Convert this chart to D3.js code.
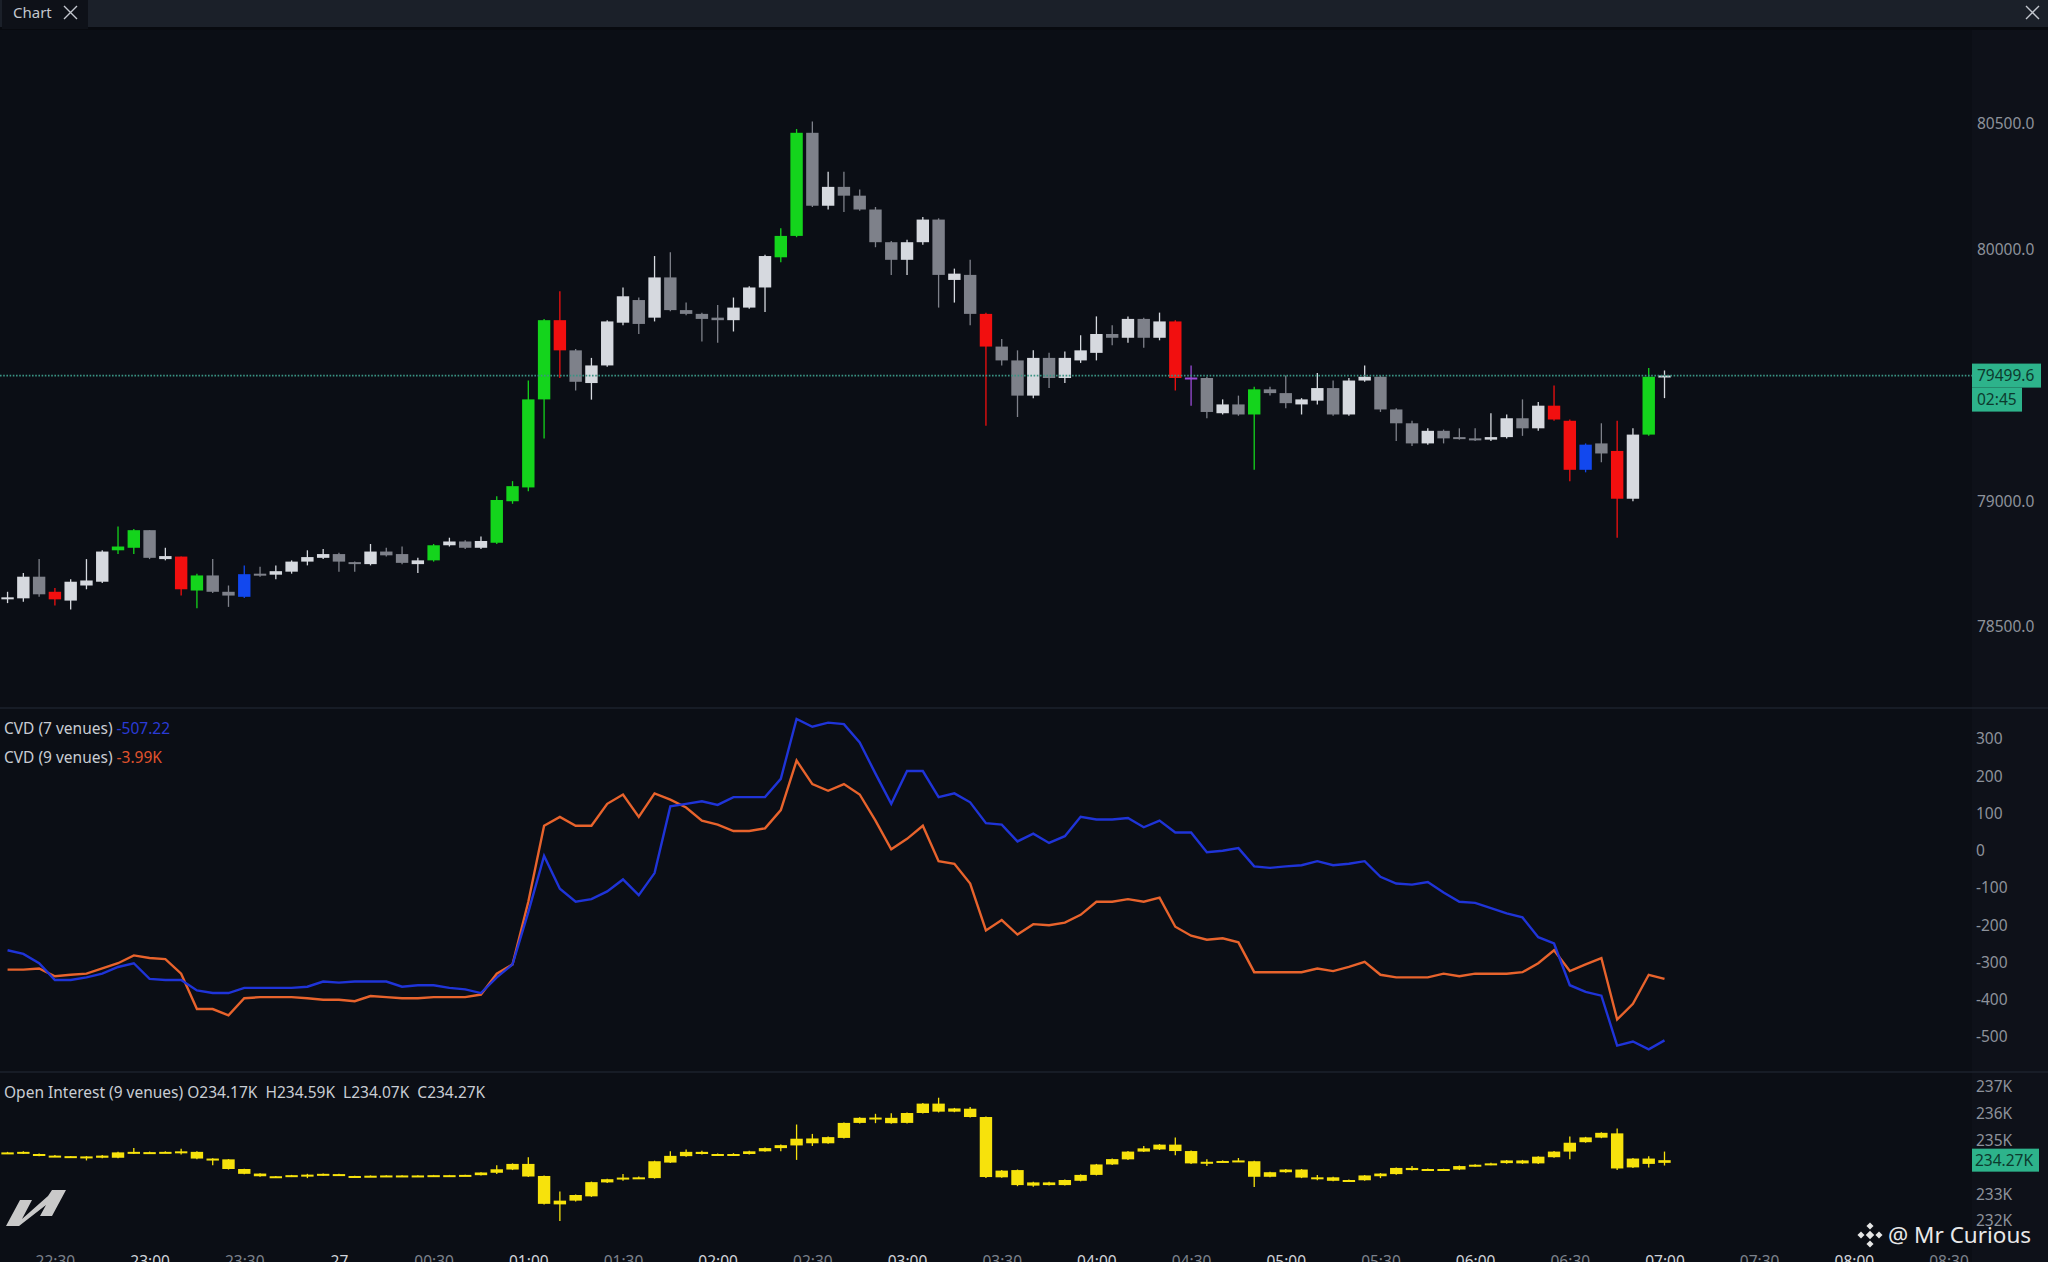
<!DOCTYPE html>
<html>
<head>
<meta charset="utf-8">
<script src="https://cdn.jsdelivr.net/npm/d3@7"></script>
<style>
  html, body { margin: 0; padding: 0; background: #0b0e15; overflow: hidden; }
  svg { display: block; font-family: "Noto Sans", "Open Sans", sans-serif; }
</style>
</head>
<body>
<svg id="chart" width="2048" height="1262"></svg>
<script>
/* data: 5 minute candles from 22:15 to 07:00 */
var PRICE_OPEN = [78615,78614,78700,78640,78605,78665,78680,78805,78815,78885,78770,78780,78645,78705,78640,78620,78712,78708,78720,78760,78775,78790,78758,78750,78800,78790,78750,78765,78825,78840,78815,78835,79000,79055,79405,79720,79600,79470,79540,79710,79800,79730,79890,79760,79745,79730,79720,79770,79850,79970,80055,80465,80175,80250,80215,80160,80030,79960,80030,80120,79880,79900,79745,79615,79560,79420,79570,79490,79560,79590,79665,79650,79725,79650,79715,79490,79490,79350,79385,79345,79445,79430,79385,79400,79450,79345,79480,79495,79365,79310,79230,79280,79255,79250,79245,79255,79330,79290,79380,79320,79125,79230,79200,79010,79265,79495];
var PRICE_HIGH = [78640,78715,78770,78655,78690,78770,78805,78900,78890,78885,78815,78780,78712,78770,78665,78745,78740,78745,78765,78805,78810,78795,78760,78830,78815,78820,78775,78830,78855,78845,78860,79020,79080,79480,79725,79835,79605,79570,79720,79850,79810,79975,79990,79790,79750,79780,79810,79855,79980,80085,80480,80510,80310,80310,80240,80170,80035,80040,80130,80125,79925,79960,79750,79645,79600,79600,79590,79595,79660,79735,79700,79735,79730,79750,79720,79540,79495,79405,79420,79455,79455,79500,79410,79510,79480,79490,79540,79500,79370,79320,79290,79285,79290,79290,79350,79345,79405,79395,79460,79325,79230,79310,79320,79290,79530,79520];
var PRICE_LOW = [78595,78600,78620,78585,78570,78650,78675,78790,78790,78770,78765,78625,78575,78635,78580,78615,78700,78690,78712,78745,78770,78720,78720,78745,78780,78750,78715,78760,78820,78810,78810,78830,78990,79040,79250,79490,79440,79404,79535,79700,79665,79715,79755,79740,79635,79630,79675,79765,79752,79950,80050,80170,80160,80150,80155,80010,79900,79900,80020,79770,79790,79700,79300,79540,79335,79410,79450,79470,79550,79560,79620,79630,79610,79640,79440,79380,79330,79345,79340,79125,79420,79370,79345,79385,79340,79340,79475,79355,79240,79220,79225,79230,79245,79240,79240,79250,79260,79280,79320,79080,79115,79155,78855,79000,79260,79410];
var PRICE_CLOSE = [78618,78700,78630,78610,78680,78685,78800,78820,78885,78775,78782,78650,78705,78640,78625,78710,78705,78722,78760,78778,78790,78760,78752,78800,78785,78755,78765,78825,78840,78815,78842,79005,79060,79405,79720,79600,79475,79540,79715,79815,79705,79890,79760,79745,79725,79720,79770,79850,79975,80055,80465,80175,80250,80215,80160,80030,79960,80030,80120,79900,79905,79745,79615,79560,79420,79570,79490,79570,79600,79665,79650,79725,79650,79715,79490,79492,79355,79385,79345,79445,79430,79390,79405,79450,79345,79480,79495,79365,79310,79230,79280,79250,79250,79245,79255,79330,79290,79380,79325,79125,79225,79190,79010,79265,79495,79500];
var CANDLE_KIND = ["up","up","down","red","up","up","up","green","green","down","up","red","green","down","down","blue","down","up","up","up","up","down","down","up","down","down","up","green","up","down","up","green","green","green","green","red","down","up","up","up","down","up","down","down","down","down","up","up","up","green","green","down","up","down","down","down","down","up","up","down","up","down","red","down","down","up","down","up","up","up","down","up","down","up","red","purple","down","up","down","green","down","down","up","up","down","up","up","down","down","down","up","down","down","down","up","up","down","up","red","red","blue","down","red","up","green","up"];

var CVD_7 = [-267,-277,-302,-347,-347,-340,-330,-312,-302,-344,-347,-347,-375,-382,-382,-368,-368,-368,-368,-365,-351,-354,-351,-351,-351,-365,-361,-361,-368,-372,-382,-340,-305,-165,-14,-102,-137,-130,-109,-77,-119,-60,119,126,133,123,144,144,144,193,354,333,344,340,291,207,126,214,214,144,154,130,74,70,25,46,21,39,91,84,84,88,63,81,49,49,-4,0,7,-42,-46,-42,-39,-28,-39,-35,-28,-70,-88,-91,-84,-112,-137,-140,-154,-168,-179,-232,-249,-361,-379,-389,-523,-512,-533,-509];
var CVD_9 = [-319,-319,-316,-337,-333,-330,-316,-302,-281,-288,-291,-330,-425,-425,-442,-396,-393,-393,-393,-396,-400,-400,-404,-390,-393,-396,-396,-393,-393,-393,-386,-330,-305,-137,67,91,67,67,126,151,91,154,137,116,81,70,53,53,60,109,242,179,161,179,151,81,4,32,67,-28,-35,-88,-214,-186,-225,-197,-200,-193,-172,-137,-137,-130,-137,-126,-204,-228,-239,-235,-246,-326,-326,-326,-326,-316,-323,-312,-298,-333,-340,-340,-340,-330,-337,-330,-330,-330,-326,-302,-267,-323,-305,-288,-453,-411,-333,-344];

var OI_OPEN = [234.55,234.52,234.5,234.44,234.42,234.41,234.36,234.36,234.52,234.57,234.56,234.58,234.58,234.33,234.3,233.94,233.77,233.67,233.66,233.72,233.7,233.7,233.67,233.68,233.69,233.69,233.69,233.7,233.7,233.7,233.71,233.8,233.92,234.13,233.68,232.62,232.76,232.92,233.44,233.58,233.6,233.6,234.18,234.42,234.5,234.5,234.45,234.5,234.6,234.72,234.82,234.9,234.9,235.1,235.66,235.85,235.65,235.66,236.03,236.38,236.2,236.19,235.88,233.63,233.9,233.32,233.34,233.34,233.5,233.72,234.11,234.3,234.59,234.67,234.85,234.61,234.19,234.22,234.24,234.23,233.65,233.82,233.92,233.61,233.63,233.51,233.52,233.67,233.75,233.9,233.92,233.93,233.92,234.04,234.1,234.16,234.15,234.15,234.38,234.59,234.94,235.11,235.27,234.0,234.33,234.17];
var OI_HIGH = [234.58,234.6,234.52,234.46,234.43,234.42,234.46,234.58,234.72,234.59,234.6,234.7,234.6,234.34,234.31,233.95,233.78,233.68,233.72,233.76,233.77,233.76,233.69,233.7,233.71,233.71,233.71,233.72,233.72,233.73,233.82,234.08,234.15,234.38,233.7,233.1,232.99,233.47,233.58,233.75,233.66,234.25,234.6,234.67,234.62,234.52,234.53,234.62,234.74,234.85,235.6,235.25,235.15,235.68,235.87,236.0,236.02,236.05,236.4,236.6,236.22,236.25,235.9,233.9,233.92,233.46,233.46,233.55,233.74,234.13,234.33,234.61,234.8,234.87,235.12,234.63,234.3,234.26,234.35,234.25,233.84,233.94,233.94,233.72,233.65,233.55,233.72,233.79,234.0,234.05,233.96,233.95,234.07,234.12,234.17,234.28,234.28,234.42,234.61,235.15,235.14,235.31,235.45,234.35,234.42,234.59];
var OI_LOW = [234.53,234.5,234.42,234.4,234.39,234.26,234.34,234.34,234.5,234.54,234.55,234.48,234.3,234.08,233.92,233.74,233.65,233.64,233.64,233.6,233.69,233.69,233.66,233.66,233.68,233.68,233.68,233.69,233.69,233.69,233.7,233.75,233.9,233.64,232.62,232.0,232.73,232.9,233.42,233.5,233.58,233.58,234.16,234.4,234.48,234.43,234.43,234.48,234.58,234.6,234.28,234.8,234.88,235.08,235.64,235.65,235.63,235.64,236.01,236.05,236.06,235.86,233.6,233.61,233.3,233.28,233.32,233.32,233.48,233.7,234.09,234.28,234.57,234.65,234.45,234.13,234.05,234.2,234.22,233.27,233.63,233.8,233.6,233.52,233.48,233.49,233.5,233.6,233.73,233.88,233.9,233.92,233.9,234.02,234.08,234.14,234.13,234.13,234.36,234.3,234.92,235.09,233.9,233.98,234.0,234.07];
var OI_CLOSE = [234.56,234.58,234.44,234.43,234.41,234.4,234.44,234.56,234.58,234.56,234.58,234.6,234.33,234.32,233.94,233.76,233.67,233.66,233.71,233.73,233.76,233.75,233.68,233.69,233.7,233.7,233.7,233.71,233.71,233.72,233.81,233.93,234.13,233.66,232.64,232.76,232.97,233.45,233.56,233.62,233.63,234.23,234.43,234.58,234.58,234.45,234.5,234.6,234.72,234.83,235.07,235.08,235.13,235.66,235.85,235.86,235.85,236.03,236.38,236.08,236.08,235.88,233.64,233.88,233.34,233.44,233.44,233.53,233.72,234.11,234.31,234.59,234.71,234.85,234.61,234.15,234.21,234.24,234.26,233.65,233.82,233.92,233.62,233.63,233.5,233.53,233.7,233.77,233.98,233.98,233.94,233.94,234.05,234.1,234.15,234.26,234.26,234.4,234.59,234.92,235.12,235.29,233.96,234.33,234.13,234.27];

var PRICE_TICKS = [80500, 80000, 79000, 78500];
var CVD_TICKS = [300, 200, 100, 0, -100, -200, -300, -400, -500];
var OI_TICKS = [237, 236, 235, 233, 232];
var TIME_LABELS = ["22:30","23:00","23:30","27","00:30","01:00","01:30","02:00","02:30","03:00","03:30","04:00","04:30","05:00","05:30","06:00","06:30","07:00","07:30","08:00","08:30"];

var LAST_PRICE = 79499.6;
var LAST_PRICE_TIMER = "02:45";
var LAST_OI = 234.27;
var CVD_7_LAST = "-507.22";
var CVD_9_LAST = "-3.99K";

var KIND_COLOR = {
  up: "#d6d9df", down: "#7e818a", red: "#f20f0f",
  green: "#14d41c", blue: "#1248ee", purple: "#9a4bd6"
};

var W = 2048, H = 1262;
var AXIS_X = 1972;
var svg = d3.select("#chart");

var firstBar = new Date(2025, 1, 26, 22, 15);
var times = PRICE_OPEN.map((d, i) => d3.timeMinute.offset(firstBar, i * 5));
var x = d3.scaleTime()
  .domain([new Date(2025, 1, 26, 22, 30), new Date(2025, 1, 27, 7, 0)])
  .range([54.9, 1664.5]);
var bodyW = 12.4;

var yPrice = d3.scaleLinear().domain([78500, 80500]).range([627, 124]);
var yCvd = d3.scaleLinear().domain([-500, 300]).range([1037, 739]);
var yOi = d3.scaleLinear().domain([232, 237]).range([1221, 1087]);

drawChrome();
drawCandles(svg.append("g"), yPrice, PRICE_OPEN, PRICE_HIGH, PRICE_LOW, PRICE_CLOSE, i => KIND_COLOR[CANDLE_KIND[i]]);
drawLastPrice();
drawCvd();
drawCandles(svg.append("g"), yOi, OI_OPEN, OI_HIGH, OI_LOW, OI_CLOSE, () => "#f7e20c");
drawAxes();
drawLegends();
drawWatermarks();

function drawChrome() {
  svg.append("rect").attr("width", W).attr("height", H).attr("fill", "#0b0e15");
  svg.append("rect").attr("x", AXIS_X).attr("y", 27).attr("width", W - AXIS_X).attr("height", H - 27).attr("fill", "#0e1119");

  // top tab bar
  svg.append("rect").attr("width", W).attr("height", 27).attr("fill", "#1b2029");
  svg.append("rect").attr("y", 27).attr("width", W).attr("height", 3).attr("fill", "#080a0f");
  svg.append("rect").attr("x", 2).attr("width", 86).attr("height", 29).attr("fill", "#0e1118");
  svg.append("text").attr("x", 13).attr("y", 18).attr("font-size", 15).attr("fill", "#c3c7ce").text("Chart");
  drawCross(64, 6, 13);
  drawCross(2026, 6, 13);

  // pane separators
  [708, 1072].forEach(yy => {
    svg.append("line").attr("x1", 0).attr("x2", W).attr("y1", yy).attr("y2", yy)
      .attr("stroke", "#1d222d").attr("stroke-width", 1.5);
  });
}

function drawCross(x0, y0, s) {
  svg.append("path")
    .attr("d", `M${x0},${y0}L${x0 + s},${y0 + s}M${x0 + s},${y0}L${x0},${y0 + s}`)
    .attr("stroke", "#c3c7ce").attr("stroke-width", 1.4).attr("fill", "none");
}

function drawCandles(g, y, o, h, l, c, colorOf) {
  let bars = g.selectAll("g.bar").data(times).join("g").attr("class", "bar");
  bars.append("line")
    .attr("x1", d => x(d)).attr("x2", d => x(d))
    .attr("y1", (d, i) => y(h[i])).attr("y2", (d, i) => y(l[i]))
    .attr("stroke", (d, i) => colorOf(i)).attr("stroke-width", 1.3);
  bars.append("rect")
    .attr("x", d => x(d) - bodyW / 2).attr("width", bodyW)
    .attr("y", (d, i) => y(Math.max(o[i], c[i])))
    .attr("height", (d, i) => Math.max(2, Math.abs(y(o[i]) - y(c[i]))))
    .attr("fill", (d, i) => colorOf(i));
}

function drawLastPrice() {
  let yy = yPrice(LAST_PRICE);
  svg.append("line").attr("x1", 0).attr("x2", AXIS_X).attr("y1", yy).attr("y2", yy)
    .attr("stroke", "#3a9484").attr("stroke-width", 1.6).attr("stroke-dasharray", "1.6,1.6");
  svg.append("rect").attr("x", AXIS_X).attr("y", yy - 12).attr("width", 69).attr("height", 24).attr("fill", "#2db38b");
  svg.append("rect").attr("x", AXIS_X).attr("y", yy + 12).attr("width", 50).attr("height", 24).attr("fill", "#2db38b");
  svg.append("text").attr("x", AXIS_X + 5).attr("y", yy + 5.5).attr("font-size", 15.5).attr("fill", "#0c3a2e").text(LAST_PRICE.toFixed(1));
  svg.append("text").attr("x", AXIS_X + 5).attr("y", yy + 29.5).attr("font-size", 15.5).attr("fill", "#0c3a2e").text(LAST_PRICE_TIMER);
}

function drawCvd() {
  let line = (vals) => d3.line().x((d, i) => x(times[i])).y(d => yCvd(d))(vals);
  svg.append("path").attr("d", line(CVD_9)).attr("fill", "none").attr("stroke", "#e8632c").attr("stroke-width", 2.4);
  svg.append("path").attr("d", line(CVD_7)).attr("fill", "none").attr("stroke", "#1f34d8").attr("stroke-width", 2.4);
}

function styleAxis(g) {
  g.select(".domain").remove();
  g.selectAll("line").remove();
  g.selectAll("text").attr("fill", "#8d929b").attr("font-size", 15.5).attr("font-family", "Noto Sans, Open Sans, sans-serif");
}

function drawAxes() {
  svg.append("g").attr("transform", `translate(${AXIS_X},0)`)
    .call(d3.axisRight(yPrice).tickValues(PRICE_TICKS).tickSize(0).tickPadding(5).tickFormat(d3.format(".1f")))
    .call(styleAxis);
  svg.append("g").attr("transform", `translate(${AXIS_X},0)`)
    .call(d3.axisRight(yCvd).tickValues(CVD_TICKS).tickSize(0).tickPadding(4).tickFormat(d => String(d)))
    .call(styleAxis);
  svg.append("g").attr("transform", `translate(${AXIS_X},0)`)
    .call(d3.axisRight(yOi).tickValues(OI_TICKS).tickSize(0).tickPadding(4).tickFormat(d => d + "K"))
    .call(styleAxis);

  // open interest last value box
  let yy = yOi(LAST_OI);
  svg.append("rect").attr("x", AXIS_X).attr("y", yy - 11.5).attr("width", 67).attr("height", 23).attr("fill", "#2db38b");
  svg.append("text").attr("x", AXIS_X + 3).attr("y", yy + 5.5).attr("font-size", 15.5).attr("fill", "#0c3a2e").text(LAST_OI + "K");

  // time axis, cut by the bottom of the window
  let tickDates = TIME_LABELS.map((t, i) => d3.timeMinute.offset(new Date(2025, 1, 26, 22, 30), i * 30));
  let tg = svg.append("g").attr("transform", "translate(0,1249)")
    .call(d3.axisBottom(x).tickValues(tickDates).tickSize(0).tickPadding(7).tickFormat((d, i) => TIME_LABELS[i]))
    .call(styleAxis);
  tg.selectAll("text").attr("fill", (d) => d.getMinutes() === 0 ? "#d0d3d9" : "#7c818b");
}

function drawLegends() {
  let t1 = svg.append("text").attr("x", 4).attr("y", 734).attr("font-size", 15.5).attr("fill", "#c8ccd3");
  t1.append("tspan").text("CVD (7 venues) ");
  t1.append("tspan").attr("fill", "#2a3bd6").text(CVD_7_LAST);
  let t2 = svg.append("text").attr("x", 4).attr("y", 763).attr("font-size", 15.5).attr("fill", "#c8ccd3");
  t2.append("tspan").text("CVD (9 venues) ");
  t2.append("tspan").attr("fill", "#e0532d").text(CVD_9_LAST);

  let last = OI_OPEN.length - 1;
  let f = d => d.toFixed(2) + "K";
  svg.append("text").attr("x", 4).attr("y", 1098).attr("font-size", 15.5).attr("fill", "#c8ccd3")
    .attr("xml:space", "preserve")
    .text(`Open Interest (9 venues) O${f(OI_OPEN[last])}  H${f(OI_HIGH[last])}  L${f(OI_LOW[last])}  C${f(OI_CLOSE[last])}`);
}

function drawWatermarks() {
  // bottom left logo
  svg.append("path")
    .attr("d", "M6,1226L20,1200L32,1200L22,1219L48,1196L52,1190L66,1190L52,1216L40,1216L46,1205L19,1226Z")
    .attr("fill", "#c9c9c9");

  // diamond mark + signature bottom right
  let lg = svg.append("g").attr("transform", "translate(1870,1235)").attr("fill", "#e6e6e6");
  [[0, -9], [0, 9], [-9, 0], [9, 0], [0, 0]].forEach((p, i) => {
    let s = i === 4 ? 6 : 5;
    lg.append("rect").attr("x", p[0] - s / 2).attr("y", p[1] - s / 2).attr("width", s).attr("height", s)
      .attr("transform", `rotate(45,${p[0]},${p[1]})`);
  });
  svg.append("text").attr("x", 1888).attr("y", 1243).attr("font-size", 22.5).attr("fill", "#e8e8e8").text("@ Mr Curious");
}
</script>
</body>
</html>
